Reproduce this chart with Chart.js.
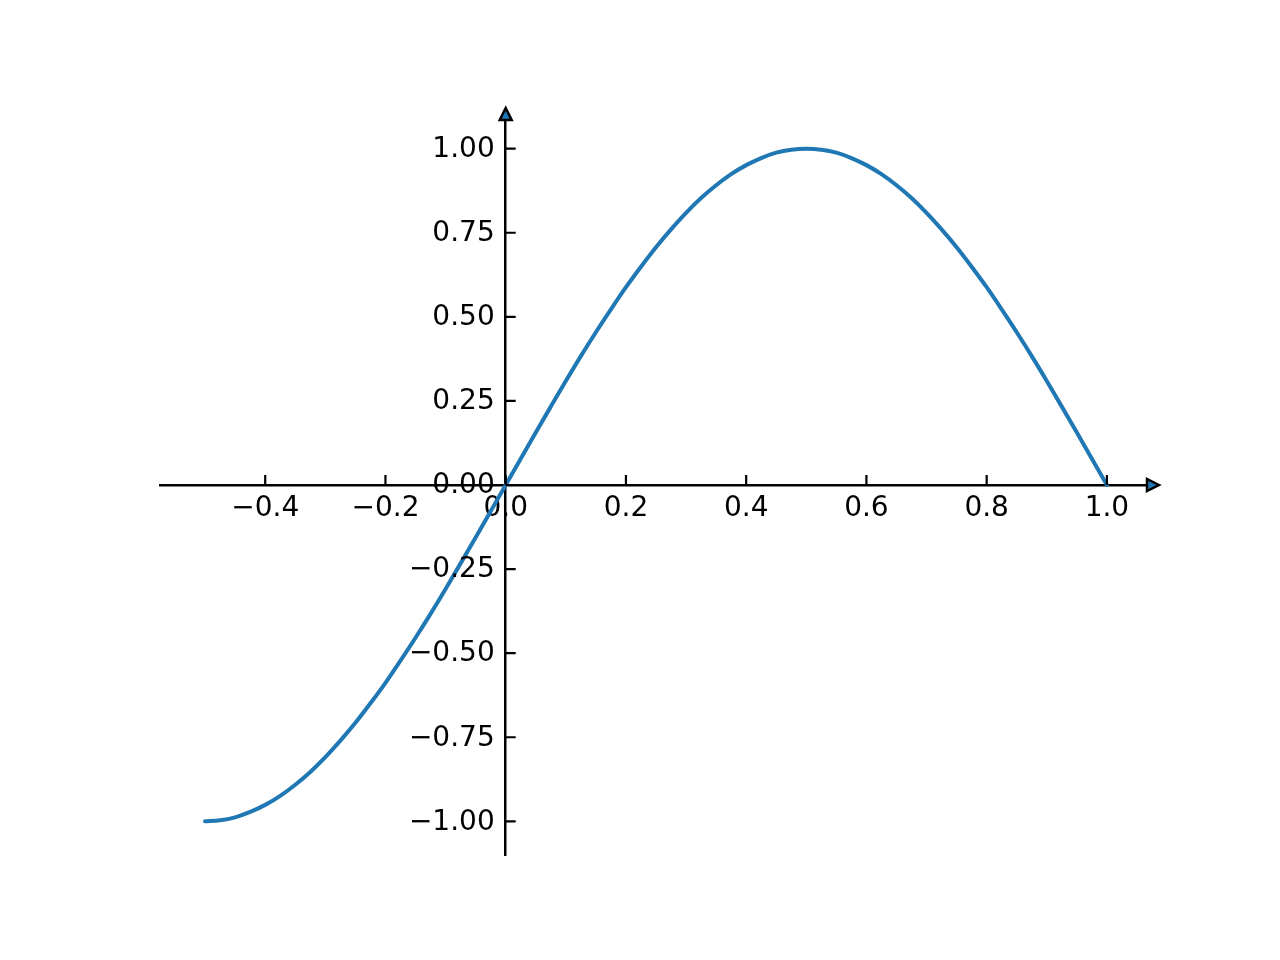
<!DOCTYPE html>
<html>
<head>
<meta charset="utf-8">
<script src="https://cdn.jsdelivr.net/npm/chart.js@4.4.1/dist/chart.umd.min.js"></script>
<style>
  html, body { margin: 0; padding: 0; background: #fff; }
  #wrap { width: 1280px; height: 960px; }
</style>
</head>
<body>
<div id="wrap"><canvas id="chart1" width="1280" height="960"></canvas></div>
<script>
// values
const xs = [-0.5, -0.475, -0.45, -0.425, -0.4, -0.375, -0.35, -0.325, -0.3, -0.275,
  -0.25, -0.225, -0.2, -0.175, -0.15, -0.125, -0.1, -0.075, -0.05, -0.025,
  0, 0.025, 0.05, 0.075, 0.1, 0.125, 0.15, 0.175, 0.2, 0.225,
  0.25, 0.275, 0.3, 0.325, 0.35, 0.375, 0.4, 0.425, 0.45, 0.475,
  0.5, 0.525, 0.55, 0.575, 0.6, 0.625, 0.65, 0.675, 0.7, 0.725,
  0.75, 0.775, 0.8, 0.825, 0.85, 0.875, 0.9, 0.925, 0.95, 0.975, 1.0];
const ys = [-1.0, -0.997, -0.988, -0.972, -0.951, -0.924, -0.891, -0.853, -0.809, -0.760,
  -0.707, -0.649, -0.588, -0.522, -0.454, -0.383, -0.309, -0.233, -0.156, -0.078,
  0, 0.078, 0.156, 0.233, 0.309, 0.383, 0.454, 0.522, 0.588, 0.649,
  0.707, 0.760, 0.809, 0.853, 0.891, 0.924, 0.951, 0.972, 0.988, 0.997,
  1.0, 0.997, 0.988, 0.972, 0.951, 0.924, 0.891, 0.853, 0.809, 0.760,
  0.707, 0.649, 0.588, 0.522, 0.454, 0.383, 0.309, 0.233, 0.156, 0.078, 0];

const xTicks = [-0.4, -0.2, 0.0, 0.2, 0.4, 0.6, 0.8, 1.0];
const yTicks = [-1.0, -0.75, -0.5, -0.25, 0.0, 0.25, 0.5, 0.75, 1.0];

const blue = '#1f77b4';
const fontFamily = '"DejaVu Sans", sans-serif';
const fontSize = 28;

function fmt(v, d) {
  const s = Math.abs(v).toFixed(d);
  return v < 0 ? '\u2212' + s : s;
}

// tick marks point inward (up / right), y labels sit left of the centred axis,
// and arrow heads mark the axis ends
const spinePlugin = {
  id: 'spines',
  afterDraw(chart) {
    const ctx = chart.ctx;
    const sx = chart.scales.x, sy = chart.scales.y;
    const x0 = sx.getPixelForValue(0), y0 = sy.getPixelForValue(0);
    const area = chart.chartArea;
    ctx.save();
    ctx.strokeStyle = '#000';
    ctx.lineWidth = 2.2;
    ctx.beginPath();
    xTicks.forEach(v => {
      const px = sx.getPixelForValue(v);
      ctx.moveTo(px, y0);
      ctx.lineTo(px, y0 - 10);
    });
    yTicks.forEach(v => {
      const py = sy.getPixelForValue(v);
      ctx.moveTo(x0, py);
      ctx.lineTo(x0 + 10, py);
    });
    ctx.stroke();

    ctx.fillStyle = '#000';
    ctx.font = fontSize + 'px ' + fontFamily;
    ctx.textAlign = 'right';
    ctx.textBaseline = 'middle';
    yTicks.forEach(v => {
      ctx.fillText(fmt(v, 2), x0 - 11, sy.getPixelForValue(v) + 1);
    });

    ctx.fillStyle = blue;
    ctx.lineWidth = 2.5;
    ctx.lineJoin = 'miter';
    // right arrow
    ctx.beginPath();
    ctx.moveTo(area.right + 7, y0);
    ctx.lineTo(area.right - 5, y0 - 6);
    ctx.lineTo(area.right - 5, y0 + 6);
    ctx.closePath();
    ctx.fill();
    ctx.stroke();
    // up arrow
    ctx.beginPath();
    ctx.moveTo(x0, area.top - 7);
    ctx.lineTo(x0 - 6, area.top + 5);
    ctx.lineTo(x0 + 6, area.top + 5);
    ctx.closePath();
    ctx.fill();
    ctx.stroke();
    ctx.restore();
  }
};

const ctx = document.getElementById('chart1');
new Chart(ctx, {
  type: 'line',
  data: {
    datasets: [{
      data: xs.map((x, i) => ({ x: x, y: ys[i] })),
      borderColor: blue,
      borderWidth: 4,
      pointRadius: 0,
      cubicInterpolationMode: 'monotone',
      borderJoinStyle: 'round',
      borderCapStyle: 'round',
      fill: false
    }]
  },
  options: {
    responsive: false,
    animation: false,
    layout: { padding: { left: 160, right: 128, top: 115, bottom: 105 } },
    plugins: { legend: { display: false }, tooltip: { enabled: false } },
    scales: {
      x: {
        type: 'linear',
        min: -0.575,
        max: 1.075,
        position: { y: 0 },
        afterBuildTicks: s => { s.ticks = xTicks.map(v => ({ value: v })); },
        grid: { drawOnChartArea: false, drawTicks: false },
        border: { color: '#000', width: 2.5 },
        ticks: {
          autoSkip: false,
          maxRotation: 0,
          padding: 7,
          color: '#000',
          font: { family: fontFamily, size: fontSize },
          callback: v => fmt(v, 1)
        }
      },
      y: {
        type: 'linear',
        min: -1.1,
        max: 1.1,
        position: { x: 0 },
        afterBuildTicks: s => { s.ticks = yTicks.map(v => ({ value: v })); },
        grid: { drawOnChartArea: false, drawTicks: false },
        border: { color: '#000', width: 2.5 },
        ticks: { display: false }
      }
    }
  },
  plugins: [spinePlugin]
});
</script>
</body>
</html>
